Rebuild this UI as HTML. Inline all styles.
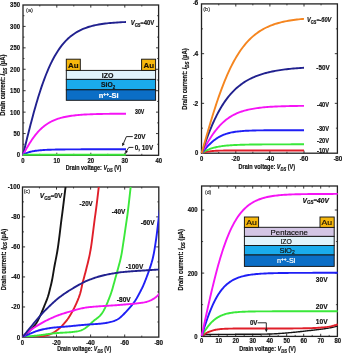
<!DOCTYPE html>
<html><head><meta charset="utf-8"><title>Output characteristics</title>
<style>html,body{margin:0;padding:0;background:#fff;width:342px;height:355px;overflow:hidden}svg{display:block}</style>
</head><body>
<svg width="342" height="355" viewBox="0 0 342 355" style="font-family:'Liberation Sans',Arial,sans-serif;font-weight:bold">
<style>text{stroke:#111;stroke-width:0.18px;stroke-linejoin:round}text.w{stroke:#fff}text.n{stroke-width:0.12px;fill:#222;stroke:#222}</style>
<rect width="342" height="355" fill="#fff"/>
<line x1="56.80" y1="155.30" x2="56.80" y2="152.70" stroke="#222" stroke-width="0.90"/>
<line x1="56.80" y1="5.00" x2="56.80" y2="7.60" stroke="#222" stroke-width="0.90"/>
<line x1="90.80" y1="155.30" x2="90.80" y2="152.70" stroke="#222" stroke-width="0.90"/>
<line x1="90.80" y1="5.00" x2="90.80" y2="7.60" stroke="#222" stroke-width="0.90"/>
<line x1="124.80" y1="155.30" x2="124.80" y2="152.70" stroke="#222" stroke-width="0.90"/>
<line x1="124.80" y1="5.00" x2="124.80" y2="7.60" stroke="#222" stroke-width="0.90"/>
<line x1="39.80" y1="155.30" x2="39.80" y2="153.80" stroke="#222" stroke-width="0.80"/>
<line x1="39.80" y1="5.00" x2="39.80" y2="6.50" stroke="#222" stroke-width="0.80"/>
<line x1="73.80" y1="155.30" x2="73.80" y2="153.80" stroke="#222" stroke-width="0.80"/>
<line x1="73.80" y1="5.00" x2="73.80" y2="6.50" stroke="#222" stroke-width="0.80"/>
<line x1="107.80" y1="155.30" x2="107.80" y2="153.80" stroke="#222" stroke-width="0.80"/>
<line x1="107.80" y1="5.00" x2="107.80" y2="6.50" stroke="#222" stroke-width="0.80"/>
<line x1="141.80" y1="155.30" x2="141.80" y2="153.80" stroke="#222" stroke-width="0.80"/>
<line x1="141.80" y1="5.00" x2="141.80" y2="6.50" stroke="#222" stroke-width="0.80"/>
<line x1="23.00" y1="133.57" x2="25.60" y2="133.57" stroke="#222" stroke-width="0.90"/>
<line x1="158.60" y1="133.57" x2="156.00" y2="133.57" stroke="#222" stroke-width="0.90"/>
<line x1="23.00" y1="112.14" x2="25.60" y2="112.14" stroke="#222" stroke-width="0.90"/>
<line x1="158.60" y1="112.14" x2="156.00" y2="112.14" stroke="#222" stroke-width="0.90"/>
<line x1="23.00" y1="90.71" x2="25.60" y2="90.71" stroke="#222" stroke-width="0.90"/>
<line x1="158.60" y1="90.71" x2="156.00" y2="90.71" stroke="#222" stroke-width="0.90"/>
<line x1="23.00" y1="69.28" x2="25.60" y2="69.28" stroke="#222" stroke-width="0.90"/>
<line x1="158.60" y1="69.28" x2="156.00" y2="69.28" stroke="#222" stroke-width="0.90"/>
<line x1="23.00" y1="47.85" x2="25.60" y2="47.85" stroke="#222" stroke-width="0.90"/>
<line x1="158.60" y1="47.85" x2="156.00" y2="47.85" stroke="#222" stroke-width="0.90"/>
<line x1="23.00" y1="26.42" x2="25.60" y2="26.42" stroke="#222" stroke-width="0.90"/>
<line x1="158.60" y1="26.42" x2="156.00" y2="26.42" stroke="#222" stroke-width="0.90"/>
<line x1="23.00" y1="144.28" x2="24.50" y2="144.28" stroke="#222" stroke-width="0.80"/>
<line x1="158.60" y1="144.28" x2="157.10" y2="144.28" stroke="#222" stroke-width="0.80"/>
<line x1="23.00" y1="122.86" x2="24.50" y2="122.86" stroke="#222" stroke-width="0.80"/>
<line x1="158.60" y1="122.86" x2="157.10" y2="122.86" stroke="#222" stroke-width="0.80"/>
<line x1="23.00" y1="101.43" x2="24.50" y2="101.43" stroke="#222" stroke-width="0.80"/>
<line x1="158.60" y1="101.43" x2="157.10" y2="101.43" stroke="#222" stroke-width="0.80"/>
<line x1="23.00" y1="80.00" x2="24.50" y2="80.00" stroke="#222" stroke-width="0.80"/>
<line x1="158.60" y1="80.00" x2="157.10" y2="80.00" stroke="#222" stroke-width="0.80"/>
<line x1="23.00" y1="58.56" x2="24.50" y2="58.56" stroke="#222" stroke-width="0.80"/>
<line x1="158.60" y1="58.56" x2="157.10" y2="58.56" stroke="#222" stroke-width="0.80"/>
<line x1="23.00" y1="37.14" x2="24.50" y2="37.14" stroke="#222" stroke-width="0.80"/>
<line x1="158.60" y1="37.14" x2="157.10" y2="37.14" stroke="#222" stroke-width="0.80"/>
<line x1="23.00" y1="15.71" x2="24.50" y2="15.71" stroke="#222" stroke-width="0.80"/>
<line x1="158.60" y1="15.71" x2="157.10" y2="15.71" stroke="#222" stroke-width="0.80"/>
<rect x="23.00" y="5.00" width="135.60" height="150.30" fill="none" stroke="#222" stroke-width="1.30"/>
<path d="M23.00 155.00 L23.13 154.47 L23.37 153.50 L23.67 152.25 L24.03 150.76 L24.44 149.08 L24.90 147.22 L25.39 145.20 L25.92 143.05 L26.49 140.76 L27.08 138.35 L27.71 135.83 L28.37 133.21 L29.05 130.50 L29.77 127.71 L30.50 124.84 L31.27 121.92 L32.05 118.94 L32.86 115.92 L33.70 112.86 L34.55 109.77 L35.43 106.67 L36.33 103.56 L37.25 100.45 L38.19 97.34 L39.15 94.26 L40.13 91.19 L41.12 88.17 L42.14 85.18 L43.17 82.24 L44.23 79.35 L45.30 76.52 L46.38 73.75 L47.49 71.06 L48.61 68.44 L49.75 65.90 L50.90 63.44 L52.07 61.06 L53.26 58.77 L54.46 56.56 L55.68 54.44 L56.91 52.42 L58.16 50.48 L59.42 48.63 L60.70 46.86 L61.99 45.19 L63.30 43.60 L64.62 42.09 L65.96 40.66 L67.31 39.31 L68.67 38.04 L70.05 36.85 L71.44 35.72 L72.84 34.67 L74.26 33.68 L75.69 32.75 L77.13 31.88 L78.59 31.07 L80.06 30.32 L81.54 29.61 L83.03 28.96 L84.54 28.35 L86.06 27.78 L87.59 27.26 L89.14 26.77 L90.69 26.32 L92.26 25.91 L93.84 25.52 L95.43 25.17 L97.04 24.84 L98.65 24.54 L100.28 24.26 L101.92 24.00 L103.57 23.77 L105.23 23.55 L106.90 23.35 L108.58 23.17 L110.28 23.00 L111.98 22.85 L113.70 22.71 L115.43 22.58 L117.17 22.46 L118.92 22.36 L120.68 22.26 L122.45 22.17 L124.23 22.09 L126.02 22.02" fill="none" stroke="#21218f" stroke-width="1.90" stroke-linejoin="round"/>
<path d="M23.00 155.00 L23.13 154.76 L23.37 154.32 L23.67 153.75 L24.03 153.08 L24.44 152.33 L24.90 151.50 L25.39 150.60 L25.92 149.64 L26.49 148.64 L27.08 147.59 L27.71 146.50 L28.37 145.39 L29.05 144.25 L29.77 143.09 L30.50 141.92 L31.27 140.75 L32.05 139.57 L32.86 138.40 L33.70 137.23 L34.55 136.08 L35.43 134.95 L36.33 133.84 L37.25 132.75 L38.19 131.69 L39.15 130.66 L40.13 129.66 L41.12 128.70 L42.14 127.77 L43.17 126.89 L44.23 126.03 L45.30 125.22 L46.38 124.45 L47.49 123.71 L48.61 123.01 L49.75 122.35 L50.90 121.73 L52.07 121.14 L53.26 120.59 L54.46 120.07 L55.68 119.58 L56.91 119.13 L58.16 118.70 L59.42 118.31 L60.70 117.94 L61.99 117.59 L63.30 117.27 L64.62 116.98 L65.96 116.70 L67.31 116.45 L68.67 116.21 L70.05 115.99 L71.44 115.79 L72.84 115.61 L74.26 115.44 L75.69 115.28 L77.13 115.13 L78.59 115.00 L80.06 114.88 L81.54 114.77 L83.03 114.67 L84.54 114.57 L86.06 114.48 L87.59 114.41 L89.14 114.33 L90.69 114.27 L92.26 114.21 L93.84 114.15 L95.43 114.10 L97.04 114.06 L98.65 114.01 L100.28 113.98 L101.92 113.94 L103.57 113.91 L105.23 113.88 L106.90 113.85 L108.58 113.83 L110.28 113.81 L111.98 113.79 L113.70 113.77 L115.43 113.76 L117.17 113.74 L118.92 113.73 L120.68 113.71 L122.45 113.70 L124.23 113.69 L126.02 113.68" fill="none" stroke="#f514f5" stroke-width="1.90" stroke-linejoin="round"/>
<path d="M23.00 155.00 L23.13 154.92 L23.37 154.76 L23.67 154.58 L24.03 154.36 L24.44 154.12 L24.90 153.88 L25.39 153.63 L25.92 153.37 L26.49 153.12 L27.08 152.88 L27.71 152.64 L28.37 152.41 L29.05 152.19 L29.77 151.97 L30.50 151.77 L31.27 151.59 L32.05 151.41 L32.86 151.24 L33.70 151.09 L34.55 150.94 L35.43 150.81 L36.33 150.69 L37.25 150.57 L38.19 150.47 L39.15 150.37 L40.13 150.28 L41.12 150.19 L42.14 150.12 L43.17 150.05 L44.23 149.98 L45.30 149.92 L46.38 149.87 L47.49 149.82 L48.61 149.77 L49.75 149.73 L50.90 149.69 L52.07 149.66 L53.26 149.62 L54.46 149.59 L55.68 149.57 L56.91 149.54 L58.16 149.52 L59.42 149.50 L60.70 149.48 L61.99 149.46 L63.30 149.44 L64.62 149.43 L65.96 149.42 L67.31 149.40 L68.67 149.39 L70.05 149.38 L71.44 149.37 L72.84 149.36 L74.26 149.35 L75.69 149.35 L77.13 149.34 L78.59 149.33 L80.06 149.33 L81.54 149.32 L83.03 149.32 L84.54 149.31 L86.06 149.31 L87.59 149.30 L89.14 149.30 L90.69 149.30 L92.26 149.30 L93.84 149.29 L95.43 149.29 L97.04 149.29 L98.65 149.29 L100.28 149.28 L101.92 149.28 L103.57 149.28 L105.23 149.28 L106.90 149.28 L108.58 149.28 L110.28 149.27 L111.98 149.27 L113.70 149.27 L115.43 149.27 L117.17 149.27 L118.92 149.27 L120.68 149.27 L122.45 149.27 L124.23 149.27 L126.02 149.27" fill="none" stroke="#1f1ff5" stroke-width="1.90" stroke-linejoin="round"/>
<path d="M23.00 154.80 L23.50 154.80 L24.00 154.80 L24.50 154.80 L25.01 154.80 L25.51 154.80 L26.01 154.80 L26.51 154.80 L27.01 154.80 L27.51 154.80 L28.01 154.80 L28.52 154.79 L29.02 154.79 L29.52 154.79 L30.02 154.79 L30.52 154.79 L31.02 154.79 L31.52 154.79 L32.03 154.79 L32.53 154.79 L33.03 154.79 L33.53 154.79 L34.03 154.79 L34.53 154.79 L35.04 154.79 L35.54 154.79 L36.04 154.79 L36.54 154.79 L37.04 154.79 L37.54 154.79 L38.04 154.79 L38.55 154.78 L39.05 154.78 L39.55 154.78 L40.05 154.78 L40.55 154.78 L41.05 154.78 L41.55 154.78 L42.06 154.78 L42.56 154.78 L43.06 154.78 L43.56 154.78 L44.06 154.78 L44.56 154.78 L45.06 154.78 L45.57 154.78 L46.07 154.78 L46.57 154.78 L47.07 154.78 L47.57 154.78 L48.07 154.78 L48.57 154.78 L49.08 154.77 L49.58 154.77 L50.08 154.77 L50.58 154.77 L51.08 154.77 L51.58 154.77 L52.08 154.77 L52.59 154.77 L53.09 154.77 L53.59 154.77 L54.09 154.77 L54.59 154.77 L55.09 154.77 L55.60 154.77 L56.10 154.77 L56.60 154.77 L57.10 154.77 L57.60 154.77 L58.10 154.77 L58.60 154.77 L59.11 154.76 L59.61 154.76 L60.11 154.76 L60.61 154.76 L61.11 154.76 L61.61 154.76 L62.11 154.76 L62.62 154.76 L63.12 154.76 L63.62 154.76 L64.12 154.76 L64.62 154.76 L65.12 154.76 L65.62 154.76 L66.13 154.76 L66.63 154.76 L67.13 154.76 L67.63 154.76 L68.13 154.76 L68.63 154.76 L69.13 154.76 L69.64 154.75 L70.14 154.75 L70.64 154.75 L71.14 154.75 L71.64 154.75 L72.14 154.75 L72.64 154.75 L73.15 154.75 L73.65 154.75 L74.15 154.75 L74.65 154.75 L75.15 154.75 L75.65 154.75 L76.16 154.75 L76.66 154.75 L77.16 154.75 L77.66 154.75 L78.16 154.75 L78.66 154.75 L79.16 154.75 L79.67 154.74 L80.17 154.74 L80.67 154.74 L81.17 154.74 L81.67 154.74 L82.17 154.74 L82.67 154.74 L83.18 154.74 L83.68 154.74 L84.18 154.74 L84.68 154.74 L85.18 154.74 L85.68 154.74 L86.18 154.74 L86.69 154.74 L87.19 154.74 L87.69 154.74 L88.19 154.74 L88.69 154.74 L89.19 154.74 L89.69 154.74 L90.20 154.73 L90.70 154.73 L91.20 154.73 L91.70 154.73 L92.20 154.73 L92.70 154.73 L93.20 154.73 L93.71 154.73 L94.21 154.73 L94.71 154.73 L95.21 154.73 L95.71 154.73 L96.21 154.73 L96.72 154.73 L97.22 154.73 L97.72 154.73 L98.22 154.73 L98.72 154.73 L99.22 154.73 L99.72 154.73 L100.23 154.72 L100.73 154.72 L101.23 154.72 L101.73 154.72 L102.23 154.72 L102.73 154.72 L103.23 154.72 L103.74 154.72 L104.24 154.72 L104.74 154.72 L105.24 154.72 L105.74 154.72 L106.24 154.72 L106.74 154.72 L107.25 154.72 L107.75 154.72 L108.25 154.72 L108.75 154.72 L109.25 154.72 L109.75 154.72 L110.25 154.72 L110.76 154.71 L111.26 154.71 L111.76 154.71 L112.26 154.71 L112.76 154.71 L113.26 154.71 L113.76 154.71 L114.27 154.71 L114.77 154.71 L115.27 154.71 L115.77 154.71 L116.27 154.71 L116.77 154.71 L117.28 154.71 L117.78 154.71 L118.28 154.71 L118.78 154.71 L119.28 154.71 L119.78 154.71 L120.28 154.71 L120.79 154.70 L121.29 154.70 L121.79 154.70 L122.29 154.70 L122.79 154.70 L123.29 154.70 L123.79 154.70 L124.30 154.70 L124.80 154.70 L125.30 154.70 L125.80 154.70" fill="none" stroke="#3ae83a" stroke-width="1.90" stroke-linejoin="round" stroke-linecap="butt"/>
<text x="20.00" y="157.40" font-size="7.00" text-anchor="end" fill="#111" font-family="Liberation Sans, sans-serif" textLength="3.30" lengthAdjust="spacingAndGlyphs">0</text>
<text x="20.00" y="135.97" font-size="7.00" text-anchor="end" fill="#111" font-family="Liberation Sans, sans-serif" textLength="6.60" lengthAdjust="spacingAndGlyphs">50</text>
<text x="20.00" y="114.54" font-size="7.00" text-anchor="end" fill="#111" font-family="Liberation Sans, sans-serif" textLength="9.90" lengthAdjust="spacingAndGlyphs">100</text>
<text x="20.00" y="93.11" font-size="7.00" text-anchor="end" fill="#111" font-family="Liberation Sans, sans-serif" textLength="9.90" lengthAdjust="spacingAndGlyphs">150</text>
<text x="20.00" y="71.68" font-size="7.00" text-anchor="end" fill="#111" font-family="Liberation Sans, sans-serif" textLength="9.90" lengthAdjust="spacingAndGlyphs">200</text>
<text x="20.00" y="50.25" font-size="7.00" text-anchor="end" fill="#111" font-family="Liberation Sans, sans-serif" textLength="9.90" lengthAdjust="spacingAndGlyphs">250</text>
<text x="20.00" y="28.82" font-size="7.00" text-anchor="end" fill="#111" font-family="Liberation Sans, sans-serif" textLength="9.90" lengthAdjust="spacingAndGlyphs">300</text>
<text x="20.00" y="7.39" font-size="7.00" text-anchor="end" fill="#111" font-family="Liberation Sans, sans-serif" textLength="9.90" lengthAdjust="spacingAndGlyphs">350</text>
<text x="22.80" y="163.00" font-size="7.00" text-anchor="middle" fill="#111" font-family="Liberation Sans, sans-serif" textLength="3.30" lengthAdjust="spacingAndGlyphs">0</text>
<text x="56.80" y="163.00" font-size="7.00" text-anchor="middle" fill="#111" font-family="Liberation Sans, sans-serif" textLength="6.60" lengthAdjust="spacingAndGlyphs">10</text>
<text x="90.80" y="163.00" font-size="7.00" text-anchor="middle" fill="#111" font-family="Liberation Sans, sans-serif" textLength="6.60" lengthAdjust="spacingAndGlyphs">20</text>
<text x="124.80" y="163.00" font-size="7.00" text-anchor="middle" fill="#111" font-family="Liberation Sans, sans-serif" textLength="6.60" lengthAdjust="spacingAndGlyphs">30</text>
<text x="158.80" y="163.00" font-size="7.00" text-anchor="middle" fill="#111" font-family="Liberation Sans, sans-serif" textLength="6.60" lengthAdjust="spacingAndGlyphs">40</text>
<text x="26.00" y="12.20" font-size="6.00" text-anchor="start" fill="#111" textLength="7.00" lengthAdjust="spacingAndGlyphs" font-weight="normal" class="n">(a)</text>
<text transform="translate(5.40 115.80) rotate(-90)" font-size="6.30" fill="#111" textLength="61.20" lengthAdjust="spacingAndGlyphs">Drain current: <tspan font-style="italic">I</tspan><tspan font-style="italic" font-size="4.72" dy="1.8">DS</tspan><tspan dy="-1.8"> (µA)</tspan></text>
<text x="65.70" y="169.80" font-size="6.30" fill="#111" textLength="55.70" lengthAdjust="spacingAndGlyphs">Drain voltage: <tspan font-style="italic">V</tspan><tspan font-style="italic" font-size="4.72" dy="1.9">DS</tspan><tspan dy="-1.9"> (V)</tspan></text>
<text x="130.70" y="25.00" font-size="7.00" fill="#111" textLength="23.60" lengthAdjust="spacingAndGlyphs"><tspan font-style="italic">V</tspan><tspan font-style="italic" font-size="4.76" dy="1.9">GS</tspan><tspan dy="-2.1" font-size="6.16">=</tspan><tspan dy="0.2">40V</tspan></text>
<text x="135.00" y="114.00" font-size="7.00" text-anchor="start" fill="#111" textLength="9.30" lengthAdjust="spacingAndGlyphs">30V</text>
<text x="134.10" y="138.80" font-size="7.00" text-anchor="start" fill="#111" textLength="11.40" lengthAdjust="spacingAndGlyphs">20V</text>
<text x="134.70" y="149.60" font-size="7.00" text-anchor="start" fill="#111" textLength="18.50" lengthAdjust="spacingAndGlyphs">0, 10V</text>
<polyline points="132.8,136.6 126.4,136.6 123.4,143.6" fill="none" stroke="#111" stroke-width="0.9"/>
<path d="M122.20 146.20 L122.15 142.67 L124.88 143.90 Z" fill="#111"/>
<polyline points="133.4,147.4 128.8,147.4 126.4,151.3" fill="none" stroke="#111" stroke-width="0.9"/>
<path d="M125.40 153.90 L125.20 150.37 L127.98 151.49 Z" fill="#111"/>
<rect x="66.30" y="70.40" width="89.30" height="9.00" fill="#e0f3fb" stroke="#151515" stroke-width="0.95"/>
<rect x="66.30" y="79.40" width="89.30" height="10.40" fill="#1aabec" stroke="#151515" stroke-width="0.95"/>
<rect x="66.30" y="89.80" width="89.30" height="10.50" fill="#0b6ec6" stroke="#151515" stroke-width="0.95"/>
<rect x="66.30" y="59.20" width="14.00" height="11.20" fill="#f6b70d" stroke="#151515" stroke-width="0.95"/>
<text x="68.00" y="67.60" font-size="7.4" font-weight="bold" fill="#221500" textLength="10.60" lengthAdjust="spacingAndGlyphs">Au</text>
<rect x="141.60" y="59.20" width="14.00" height="11.20" fill="#f6b70d" stroke="#151515" stroke-width="0.95"/>
<text x="143.60" y="67.60" font-size="7.4" font-weight="bold" fill="#221500" textLength="10.60" lengthAdjust="spacingAndGlyphs">Au</text>
<text x="101.70" y="77.50" font-size="7.3" font-weight="bold" fill="#111" textLength="11.70" lengthAdjust="spacingAndGlyphs">IZO</text>
<text x="101.10" y="87.40" font-size="7.3" font-weight="bold" fill="#111" textLength="14.00" lengthAdjust="spacingAndGlyphs">SiO<tspan font-size="4.8" dy="1.5">2</tspan></text>
<text x="98.80" y="98.30" font-size="7.3" font-weight="bold" fill="#fff" class="w" textLength="19.90" lengthAdjust="spacingAndGlyphs">n<tspan font-size="4.8" dy="-2.4">++</tspan><tspan dy="2.4">-Si</tspan></text>
<line x1="235.80" y1="153.20" x2="235.80" y2="150.60" stroke="#222" stroke-width="0.90"/>
<line x1="235.80" y1="3.90" x2="235.80" y2="6.50" stroke="#222" stroke-width="0.90"/>
<line x1="269.90" y1="153.20" x2="269.90" y2="150.60" stroke="#222" stroke-width="0.90"/>
<line x1="269.90" y1="3.90" x2="269.90" y2="6.50" stroke="#222" stroke-width="0.90"/>
<line x1="304.00" y1="153.20" x2="304.00" y2="150.60" stroke="#222" stroke-width="0.90"/>
<line x1="304.00" y1="3.90" x2="304.00" y2="6.50" stroke="#222" stroke-width="0.90"/>
<line x1="218.75" y1="153.20" x2="218.75" y2="151.70" stroke="#222" stroke-width="0.80"/>
<line x1="218.75" y1="3.90" x2="218.75" y2="5.40" stroke="#222" stroke-width="0.80"/>
<line x1="252.85" y1="153.20" x2="252.85" y2="151.70" stroke="#222" stroke-width="0.80"/>
<line x1="252.85" y1="3.90" x2="252.85" y2="5.40" stroke="#222" stroke-width="0.80"/>
<line x1="286.95" y1="153.20" x2="286.95" y2="151.70" stroke="#222" stroke-width="0.80"/>
<line x1="286.95" y1="3.90" x2="286.95" y2="5.40" stroke="#222" stroke-width="0.80"/>
<line x1="321.05" y1="153.20" x2="321.05" y2="151.70" stroke="#222" stroke-width="0.80"/>
<line x1="321.05" y1="3.90" x2="321.05" y2="5.40" stroke="#222" stroke-width="0.80"/>
<line x1="201.50" y1="103.34" x2="204.10" y2="103.34" stroke="#222" stroke-width="0.90"/>
<line x1="337.40" y1="103.34" x2="334.80" y2="103.34" stroke="#222" stroke-width="0.90"/>
<line x1="201.50" y1="53.68" x2="204.10" y2="53.68" stroke="#222" stroke-width="0.90"/>
<line x1="337.40" y1="53.68" x2="334.80" y2="53.68" stroke="#222" stroke-width="0.90"/>
<line x1="201.50" y1="128.17" x2="203.00" y2="128.17" stroke="#222" stroke-width="0.80"/>
<line x1="337.40" y1="128.17" x2="335.90" y2="128.17" stroke="#222" stroke-width="0.80"/>
<line x1="201.50" y1="78.51" x2="203.00" y2="78.51" stroke="#222" stroke-width="0.80"/>
<line x1="337.40" y1="78.51" x2="335.90" y2="78.51" stroke="#222" stroke-width="0.80"/>
<line x1="201.50" y1="28.85" x2="203.00" y2="28.85" stroke="#222" stroke-width="0.80"/>
<line x1="337.40" y1="28.85" x2="335.90" y2="28.85" stroke="#222" stroke-width="0.80"/>
<rect x="201.50" y="3.90" width="135.90" height="149.30" fill="none" stroke="#222" stroke-width="1.30"/>
<path d="M201.70 153.00 L201.83 152.97 L202.06 152.91 L202.37 152.84 L202.73 152.75 L203.13 152.65 L203.59 152.54 L204.08 152.43 L204.60 152.31 L205.16 152.18 L205.76 152.06 L206.38 151.93 L207.03 151.80 L207.71 151.68 L208.42 151.56 L209.15 151.44 L209.91 151.34 L210.69 151.24 L211.50 151.14 L212.32 151.06 L213.17 150.98 L214.04 150.91 L214.94 150.85 L215.85 150.80 L216.78 150.75 L217.73 150.71 L218.71 150.67 L219.70 150.64 L220.70 150.62 L221.73 150.60 L222.78 150.58 L223.84 150.57 L224.92 150.55 L226.02 150.54 L227.13 150.53 L228.26 150.53 L229.41 150.52 L230.57 150.52 L231.75 150.51 L232.94 150.51 L234.15 150.51 L235.37 150.51 L236.61 150.51 L237.87 150.50 L239.14 150.50 L240.42 150.50 L241.72 150.50 L243.03 150.50 L244.36 150.50 L245.70 150.50 L247.05 150.50 L248.42 150.50 L249.80 150.50 L251.19 150.50 L252.60 150.50 L254.02 150.50 L255.45 150.50 L256.90 150.50 L258.36 150.50 L259.83 150.50 L261.31 150.50 L262.81 150.50 L264.32 150.50 L265.84 150.50 L267.37 150.50 L268.92 150.50 L270.48 150.50 L272.05 150.50 L273.63 150.50 L275.22 150.50 L276.82 150.50 L278.44 150.50 L280.07 150.50 L281.70 150.50 L283.35 150.50 L285.01 150.50 L286.69 150.50 L288.37 150.50 L290.06 150.50 L291.77 150.50 L293.48 150.50 L295.21 150.50 L296.95 150.50 L298.69 150.50 L300.45 150.50 L302.22 150.50 L304.00 150.50" fill="none" stroke="#e01f2a" stroke-width="1.90" stroke-linejoin="round"/>
<path d="M201.70 153.00 L201.83 152.92 L202.06 152.78 L202.37 152.60 L202.73 152.39 L203.13 152.15 L203.59 151.90 L204.08 151.63 L204.60 151.34 L205.16 151.05 L205.76 150.75 L206.38 150.45 L207.03 150.15 L207.71 149.85 L208.42 149.55 L209.15 149.26 L209.91 148.97 L210.69 148.70 L211.50 148.43 L212.32 148.17 L213.17 147.92 L214.04 147.68 L214.94 147.45 L215.85 147.24 L216.78 147.03 L217.73 146.84 L218.71 146.66 L219.70 146.48 L220.70 146.32 L221.73 146.17 L222.78 146.03 L223.84 145.90 L224.92 145.78 L226.02 145.66 L227.13 145.56 L228.26 145.46 L229.41 145.37 L230.57 145.28 L231.75 145.20 L232.94 145.13 L234.15 145.06 L235.37 145.00 L236.61 144.94 L237.87 144.89 L239.14 144.84 L240.42 144.80 L241.72 144.76 L243.03 144.72 L244.36 144.68 L245.70 144.65 L247.05 144.62 L248.42 144.60 L249.80 144.57 L251.19 144.55 L252.60 144.53 L254.02 144.51 L255.45 144.49 L256.90 144.47 L258.36 144.46 L259.83 144.45 L261.31 144.43 L262.81 144.42 L264.32 144.41 L265.84 144.40 L267.37 144.39 L268.92 144.39 L270.48 144.38 L272.05 144.37 L273.63 144.37 L275.22 144.36 L276.82 144.36 L278.44 144.35 L280.07 144.35 L281.70 144.34 L283.35 144.34 L285.01 144.34 L286.69 144.33 L288.37 144.33 L290.06 144.33 L291.77 144.32 L293.48 144.32 L295.21 144.32 L296.95 144.32 L298.69 144.32 L300.45 144.32 L302.22 144.31 L304.00 144.31" fill="none" stroke="#3ae83a" stroke-width="1.90" stroke-linejoin="round"/>
<path d="M201.70 153.00 L201.83 152.85 L202.06 152.57 L202.37 152.22 L202.73 151.79 L203.13 151.32 L203.59 150.79 L204.08 150.22 L204.60 149.62 L205.16 148.98 L205.76 148.32 L206.38 147.63 L207.03 146.92 L207.71 146.19 L208.42 145.46 L209.15 144.71 L209.91 143.97 L210.69 143.22 L211.50 142.49 L212.32 141.76 L213.17 141.04 L214.04 140.34 L214.94 139.66 L215.85 139.00 L216.78 138.37 L217.73 137.76 L218.71 137.18 L219.70 136.63 L220.70 136.10 L221.73 135.61 L222.78 135.14 L223.84 134.71 L224.92 134.30 L226.02 133.92 L227.13 133.58 L228.26 133.25 L229.41 132.95 L230.57 132.68 L231.75 132.43 L232.94 132.20 L234.15 131.99 L235.37 131.81 L236.61 131.63 L237.87 131.48 L239.14 131.34 L240.42 131.21 L241.72 131.10 L243.03 131.00 L244.36 130.91 L245.70 130.82 L247.05 130.75 L248.42 130.69 L249.80 130.63 L251.19 130.58 L252.60 130.53 L254.02 130.49 L255.45 130.46 L256.90 130.42 L258.36 130.40 L259.83 130.37 L261.31 130.35 L262.81 130.33 L264.32 130.31 L265.84 130.30 L267.37 130.29 L268.92 130.27 L270.48 130.26 L272.05 130.26 L273.63 130.25 L275.22 130.24 L276.82 130.24 L278.44 130.23 L280.07 130.23 L281.70 130.22 L283.35 130.22 L285.01 130.22 L286.69 130.22 L288.37 130.21 L290.06 130.21 L291.77 130.21 L293.48 130.21 L295.21 130.21 L296.95 130.21 L298.69 130.21 L300.45 130.20 L302.22 130.20 L304.00 130.20" fill="none" stroke="#1f1ff5" stroke-width="1.90" stroke-linejoin="round"/>
<path d="M201.70 153.00 L201.83 152.76 L202.06 152.33 L202.37 151.77 L202.73 151.11 L203.13 150.37 L203.59 149.54 L204.08 148.65 L204.60 147.71 L205.16 146.71 L205.76 145.66 L206.38 144.57 L207.03 143.45 L207.71 142.29 L208.42 141.12 L209.15 139.92 L209.91 138.71 L210.69 137.49 L211.50 136.27 L212.32 135.04 L213.17 133.82 L214.04 132.61 L214.94 131.41 L215.85 130.22 L216.78 129.06 L217.73 127.92 L218.71 126.80 L219.70 125.71 L220.70 124.65 L221.73 123.62 L222.78 122.63 L223.84 121.67 L224.92 120.74 L226.02 119.85 L227.13 119.00 L228.26 118.18 L229.41 117.40 L230.57 116.66 L231.75 115.95 L232.94 115.28 L234.15 114.64 L235.37 114.04 L236.61 113.47 L237.87 112.93 L239.14 112.42 L240.42 111.95 L241.72 111.50 L243.03 111.08 L244.36 110.69 L245.70 110.32 L247.05 109.97 L248.42 109.65 L249.80 109.35 L251.19 109.07 L252.60 108.81 L254.02 108.57 L255.45 108.34 L256.90 108.13 L258.36 107.94 L259.83 107.76 L261.31 107.59 L262.81 107.43 L264.32 107.29 L265.84 107.16 L267.37 107.04 L268.92 106.92 L270.48 106.82 L272.05 106.72 L273.63 106.63 L275.22 106.55 L276.82 106.48 L278.44 106.41 L280.07 106.34 L281.70 106.29 L283.35 106.23 L285.01 106.18 L286.69 106.14 L288.37 106.10 L290.06 106.06 L291.77 106.02 L293.48 105.99 L295.21 105.96 L296.95 105.93 L298.69 105.91 L300.45 105.89 L302.22 105.86 L304.00 105.85" fill="none" stroke="#f514f5" stroke-width="1.90" stroke-linejoin="round"/>
<path d="M201.70 153.00 L201.83 152.62 L202.06 151.93 L202.37 151.04 L202.73 149.98 L203.13 148.79 L203.59 147.48 L204.08 146.07 L204.60 144.57 L205.16 142.99 L205.76 141.34 L206.38 139.63 L207.03 137.86 L207.71 136.05 L208.42 134.21 L209.15 132.33 L209.91 130.43 L210.69 128.52 L211.50 126.60 L212.32 124.67 L213.17 122.75 L214.04 120.83 L214.94 118.93 L215.85 117.04 L216.78 115.18 L217.73 113.34 L218.71 111.52 L219.70 109.74 L220.70 108.00 L221.73 106.29 L222.78 104.62 L223.84 102.99 L224.92 101.40 L226.02 99.85 L227.13 98.36 L228.26 96.90 L229.41 95.49 L230.57 94.13 L231.75 92.82 L232.94 91.55 L234.15 90.33 L235.37 89.15 L236.61 88.02 L237.87 86.94 L239.14 85.89 L240.42 84.89 L241.72 83.94 L243.03 83.02 L244.36 82.14 L245.70 81.31 L247.05 80.51 L248.42 79.74 L249.80 79.01 L251.19 78.32 L252.60 77.66 L254.02 77.03 L255.45 76.43 L256.90 75.86 L258.36 75.32 L259.83 74.81 L261.31 74.32 L262.81 73.86 L264.32 73.42 L265.84 73.00 L267.37 72.61 L268.92 72.23 L270.48 71.88 L272.05 71.54 L273.63 71.22 L275.22 70.92 L276.82 70.64 L278.44 70.37 L280.07 70.11 L281.70 69.87 L283.35 69.65 L285.01 69.43 L286.69 69.23 L288.37 69.04 L290.06 68.86 L291.77 68.68 L293.48 68.52 L295.21 68.37 L296.95 68.23 L298.69 68.09 L300.45 67.96 L302.22 67.84 L304.00 67.73" fill="none" stroke="#21218f" stroke-width="1.90" stroke-linejoin="round"/>
<path d="M201.70 153.00 L201.83 152.55 L202.06 151.71 L202.37 150.64 L202.73 149.36 L203.13 147.92 L203.59 146.32 L204.08 144.59 L204.60 142.74 L205.16 140.77 L205.76 138.69 L206.38 136.52 L207.03 134.26 L207.71 131.91 L208.42 129.49 L209.15 127.00 L209.91 124.44 L210.69 121.83 L211.50 119.18 L212.32 116.48 L213.17 113.74 L214.04 110.97 L214.94 108.18 L215.85 105.38 L216.78 102.56 L217.73 99.74 L218.71 96.92 L219.70 94.12 L220.70 91.32 L221.73 88.55 L222.78 85.80 L223.84 83.09 L224.92 80.41 L226.02 77.77 L227.13 75.17 L228.26 72.63 L229.41 70.14 L230.57 67.70 L231.75 65.33 L232.94 63.02 L234.15 60.77 L235.37 58.59 L236.61 56.48 L237.87 54.43 L239.14 52.46 L240.42 50.56 L241.72 48.73 L243.03 46.97 L244.36 45.29 L245.70 43.67 L247.05 42.13 L248.42 40.65 L249.80 39.24 L251.19 37.90 L252.60 36.62 L254.02 35.40 L255.45 34.25 L256.90 33.16 L258.36 32.12 L259.83 31.14 L261.31 30.21 L262.81 29.34 L264.32 28.52 L265.84 27.74 L267.37 27.01 L268.92 26.32 L270.48 25.68 L272.05 25.07 L273.63 24.50 L275.22 23.97 L276.82 23.47 L278.44 23.01 L280.07 22.57 L281.70 22.16 L283.35 21.78 L285.01 21.43 L286.69 21.10 L288.37 20.79 L290.06 20.50 L291.77 20.24 L293.48 19.99 L295.21 19.76 L296.95 19.55 L298.69 19.35 L300.45 19.17 L302.22 19.00 L304.00 18.84" fill="none" stroke="#f5851f" stroke-width="1.90" stroke-linejoin="round"/>
<text x="198.20" y="155.20" font-size="7.00" text-anchor="end" fill="#111" font-family="Liberation Sans, sans-serif" textLength="3.30" lengthAdjust="spacingAndGlyphs">0</text>
<text x="198.20" y="105.54" font-size="7.00" text-anchor="end" fill="#111" font-family="Liberation Sans, sans-serif" textLength="5.30" lengthAdjust="spacingAndGlyphs"><tspan font-size="5" dy="0.7">-</tspan><tspan dy="-0.7">2</tspan></text>
<text x="198.20" y="55.88" font-size="7.00" text-anchor="end" fill="#111" font-family="Liberation Sans, sans-serif" textLength="5.30" lengthAdjust="spacingAndGlyphs"><tspan font-size="5" dy="0.7">-</tspan><tspan dy="-0.7">4</tspan></text>
<text x="198.20" y="4.60" font-size="7.00" text-anchor="end" fill="#111" font-family="Liberation Sans, sans-serif" textLength="5.30" lengthAdjust="spacingAndGlyphs"><tspan font-size="5" dy="0.7">-</tspan><tspan dy="-0.7">6</tspan></text>
<text x="201.70" y="160.60" font-size="7.00" text-anchor="middle" fill="#111" font-family="Liberation Sans, sans-serif" textLength="3.30" lengthAdjust="spacingAndGlyphs">0</text>
<text x="235.80" y="160.60" font-size="7.00" text-anchor="middle" fill="#111" font-family="Liberation Sans, sans-serif" textLength="8.60" lengthAdjust="spacingAndGlyphs"><tspan font-size="5" dy="0.7">-</tspan><tspan dy="-0.7">20</tspan></text>
<text x="269.90" y="160.60" font-size="7.00" text-anchor="middle" fill="#111" font-family="Liberation Sans, sans-serif" textLength="8.60" lengthAdjust="spacingAndGlyphs"><tspan font-size="5" dy="0.7">-</tspan><tspan dy="-0.7">40</tspan></text>
<text x="304.00" y="160.60" font-size="7.00" text-anchor="middle" fill="#111" font-family="Liberation Sans, sans-serif" textLength="8.60" lengthAdjust="spacingAndGlyphs"><tspan font-size="5" dy="0.7">-</tspan><tspan dy="-0.7">60</tspan></text>
<text x="338.10" y="160.60" font-size="7.00" text-anchor="middle" fill="#111" font-family="Liberation Sans, sans-serif" textLength="8.60" lengthAdjust="spacingAndGlyphs"><tspan font-size="5" dy="0.7">-</tspan><tspan dy="-0.7">80</tspan></text>
<text x="203.30" y="10.60" font-size="6.20" text-anchor="start" fill="#111" textLength="6.70" lengthAdjust="spacingAndGlyphs" font-weight="normal" class="n">(b)</text>
<text transform="translate(187.20 109.80) rotate(-90)" font-size="6.30" fill="#111" textLength="61.40" lengthAdjust="spacingAndGlyphs">Drain current: <tspan font-style="italic">I</tspan><tspan font-style="italic" font-size="4.72" dy="1.8">DS</tspan><tspan dy="-1.8"> (µA)</tspan></text>
<text x="238.60" y="168.80" font-size="6.30" fill="#111" textLength="56.50" lengthAdjust="spacingAndGlyphs">Drain voltage: <tspan font-style="italic">V</tspan><tspan font-style="italic" font-size="4.72" dy="1.9">DS</tspan><tspan dy="-1.9"> (V)</tspan></text>
<text x="307.00" y="22.00" font-size="7.00" fill="#111" textLength="24.40" lengthAdjust="spacingAndGlyphs"><tspan font-style="italic">V</tspan><tspan font-style="italic" font-size="4.76" dy="1.9">GS</tspan><tspan dy="-2.1" font-size="6.16" font-style="italic">=</tspan><tspan dy="0.2" font-style="italic">-60V</tspan></text>
<text x="316.30" y="70.20" font-size="7.00" text-anchor="start" fill="#111" textLength="13.30" lengthAdjust="spacingAndGlyphs">-50V</text>
<text x="317.00" y="106.50" font-size="7.00" text-anchor="start" fill="#111" textLength="12.00" lengthAdjust="spacingAndGlyphs">-40V</text>
<text x="317.00" y="130.60" font-size="7.00" text-anchor="start" fill="#111" textLength="12.00" lengthAdjust="spacingAndGlyphs">-30V</text>
<text x="317.00" y="142.70" font-size="7.00" text-anchor="start" fill="#111" textLength="12.00" lengthAdjust="spacingAndGlyphs">-20V</text>
<text x="317.00" y="153.00" font-size="7.00" text-anchor="start" fill="#111" textLength="12.00" lengthAdjust="spacingAndGlyphs">-10V</text>
<line x1="56.50" y1="337.10" x2="56.50" y2="334.50" stroke="#222" stroke-width="0.90"/>
<line x1="56.50" y1="187.00" x2="56.50" y2="189.60" stroke="#222" stroke-width="0.90"/>
<line x1="90.60" y1="337.10" x2="90.60" y2="334.50" stroke="#222" stroke-width="0.90"/>
<line x1="90.60" y1="187.00" x2="90.60" y2="189.60" stroke="#222" stroke-width="0.90"/>
<line x1="124.70" y1="337.10" x2="124.70" y2="334.50" stroke="#222" stroke-width="0.90"/>
<line x1="124.70" y1="187.00" x2="124.70" y2="189.60" stroke="#222" stroke-width="0.90"/>
<line x1="39.45" y1="337.10" x2="39.45" y2="335.60" stroke="#222" stroke-width="0.80"/>
<line x1="39.45" y1="187.00" x2="39.45" y2="188.50" stroke="#222" stroke-width="0.80"/>
<line x1="73.55" y1="337.10" x2="73.55" y2="335.60" stroke="#222" stroke-width="0.80"/>
<line x1="73.55" y1="187.00" x2="73.55" y2="188.50" stroke="#222" stroke-width="0.80"/>
<line x1="107.65" y1="337.10" x2="107.65" y2="335.60" stroke="#222" stroke-width="0.80"/>
<line x1="107.65" y1="187.00" x2="107.65" y2="188.50" stroke="#222" stroke-width="0.80"/>
<line x1="141.75" y1="337.10" x2="141.75" y2="335.60" stroke="#222" stroke-width="0.80"/>
<line x1="141.75" y1="187.00" x2="141.75" y2="188.50" stroke="#222" stroke-width="0.80"/>
<line x1="22.50" y1="306.97" x2="25.10" y2="306.97" stroke="#222" stroke-width="0.90"/>
<line x1="158.80" y1="306.97" x2="156.20" y2="306.97" stroke="#222" stroke-width="0.90"/>
<line x1="22.50" y1="276.94" x2="25.10" y2="276.94" stroke="#222" stroke-width="0.90"/>
<line x1="158.80" y1="276.94" x2="156.20" y2="276.94" stroke="#222" stroke-width="0.90"/>
<line x1="22.50" y1="246.91" x2="25.10" y2="246.91" stroke="#222" stroke-width="0.90"/>
<line x1="158.80" y1="246.91" x2="156.20" y2="246.91" stroke="#222" stroke-width="0.90"/>
<line x1="22.50" y1="216.88" x2="25.10" y2="216.88" stroke="#222" stroke-width="0.90"/>
<line x1="158.80" y1="216.88" x2="156.20" y2="216.88" stroke="#222" stroke-width="0.90"/>
<line x1="22.50" y1="321.99" x2="24.00" y2="321.99" stroke="#222" stroke-width="0.80"/>
<line x1="158.80" y1="321.99" x2="157.30" y2="321.99" stroke="#222" stroke-width="0.80"/>
<line x1="22.50" y1="291.95" x2="24.00" y2="291.95" stroke="#222" stroke-width="0.80"/>
<line x1="158.80" y1="291.95" x2="157.30" y2="291.95" stroke="#222" stroke-width="0.80"/>
<line x1="22.50" y1="261.93" x2="24.00" y2="261.93" stroke="#222" stroke-width="0.80"/>
<line x1="158.80" y1="261.93" x2="157.30" y2="261.93" stroke="#222" stroke-width="0.80"/>
<line x1="22.50" y1="231.89" x2="24.00" y2="231.89" stroke="#222" stroke-width="0.80"/>
<line x1="158.80" y1="231.89" x2="157.30" y2="231.89" stroke="#222" stroke-width="0.80"/>
<line x1="22.50" y1="201.87" x2="24.00" y2="201.87" stroke="#222" stroke-width="0.80"/>
<line x1="158.80" y1="201.87" x2="157.30" y2="201.87" stroke="#222" stroke-width="0.80"/>
<rect x="22.50" y="187.00" width="136.30" height="150.10" fill="none" stroke="#222" stroke-width="1.30"/>
<clipPath id="cc"><rect x="22.50" y="187.00" width="136.30" height="150.10"/></clipPath>
<g clip-path="url(#cc)">
<path d="M22.70 336.90 L23.48 336.27 L24.25 335.63 L25.02 334.99 L25.79 334.35 L26.55 333.71 L27.31 333.06 L28.06 332.39 L28.80 331.72 L29.53 331.03 L30.24 330.33 L30.93 329.61 L31.61 328.88 L32.29 328.14 L32.95 327.39 L33.61 326.64 L34.26 325.88 L34.89 325.11 L35.49 324.32 L36.06 323.50 L36.60 322.66 L37.11 321.81 L37.59 320.93 L38.06 320.05 L38.51 319.16 L38.96 318.26 L39.40 317.37 L39.84 316.46 L40.26 315.56 L40.68 314.65 L41.09 313.74 L41.49 312.82 L41.89 311.90 L42.27 310.98 L42.66 310.05 L43.04 309.13 L43.41 308.20 L43.79 307.27 L44.17 306.34 L44.54 305.42 L44.92 304.49 L45.30 303.56 L45.68 302.63 L46.05 301.71 L46.42 300.78 L46.78 299.84 L47.14 298.91 L47.47 297.97 L47.80 297.02 L48.10 296.07 L48.39 295.11 L48.67 294.15 L48.93 293.18 L49.18 292.21 L49.43 291.24 L49.67 290.27 L49.91 289.30 L50.15 288.33 L50.39 287.36 L50.63 286.39 L50.87 285.41 L51.10 284.44 L51.33 283.47 L51.55 282.49 L51.76 281.51 L51.97 280.53 L52.16 279.55 L52.35 278.57 L52.53 277.58 L52.70 276.60 L52.87 275.61 L53.04 274.62 L53.21 273.63 L53.37 272.65 L53.54 271.66 L53.70 270.67 L53.87 269.69 L54.04 268.70 L54.21 267.71 L54.38 266.73 L54.56 265.74 L54.74 264.76 L54.93 263.77 L55.12 262.79 L55.31 261.81 L55.51 260.83 L55.70 259.85 L55.90 258.86 L56.09 257.88 L56.29 256.90 L56.47 255.92 L56.66 254.93 L56.84 253.95 L57.02 252.96 L57.19 251.98 L57.35 250.99 L57.51 250.00 L57.67 249.01 L57.82 248.02 L57.96 247.03 L58.11 246.04 L58.25 245.05 L58.39 244.06 L58.52 243.07 L58.66 242.07 L58.79 241.08 L58.92 240.09 L59.05 239.10 L59.18 238.10 L59.31 237.11 L59.44 236.12 L59.56 235.12 L59.68 234.13 L59.80 233.14 L59.92 232.14 L60.04 231.15 L60.16 230.16 L60.28 229.16 L60.40 228.17 L60.52 227.17 L60.64 226.18 L60.76 225.19 L60.88 224.19 L61.00 223.20 L61.13 222.21 L61.26 221.21 L61.38 220.22 L61.51 219.23 L61.64 218.23 L61.77 217.24 L61.89 216.25 L62.02 215.26 L62.15 214.26 L62.28 213.27 L62.41 212.28 L62.53 211.28 L62.66 210.29 L62.79 209.30 L62.91 208.30 L63.04 207.31 L63.16 206.32 L63.29 205.32 L63.41 204.33 L63.54 203.34 L63.66 202.34 L63.78 201.35 L63.91 200.36 L64.03 199.36 L64.15 198.37 L64.28 197.38 L64.40 196.38 L64.53 195.39 L64.65 194.40 L64.77 193.40 L64.90 192.41 L65.02 191.42 L65.14 190.42 L65.27 189.43 L65.40 188.44 L65.52 187.44 L65.65 186.45 L65.78 185.46 L65.91 184.47 L66.04 183.47 L66.17 182.48 L66.30 181.49 L66.43 180.50 L66.50 180.00" fill="none" stroke="#141414" stroke-width="1.90" stroke-linejoin="round" stroke-linecap="butt"/>
<path d="M22.70 336.90 L23.70 336.89 L24.70 336.88 L25.70 336.87 L26.70 336.86 L27.70 336.85 L28.71 336.84 L29.71 336.83 L30.71 336.81 L31.71 336.80 L32.71 336.78 L33.71 336.76 L34.71 336.73 L35.71 336.70 L36.71 336.66 L37.71 336.61 L38.71 336.56 L39.71 336.49 L40.71 336.41 L41.70 336.31 L42.69 336.19 L43.68 336.05 L44.67 335.88 L45.64 335.68 L46.61 335.45 L47.57 335.17 L48.51 334.86 L49.44 334.51 L50.36 334.12 L51.27 333.70 L52.16 333.25 L53.04 332.78 L53.90 332.28 L54.75 331.76 L55.59 331.21 L56.41 330.64 L57.22 330.05 L58.01 329.44 L58.78 328.81 L59.54 328.17 L60.29 327.50 L61.02 326.82 L61.73 326.12 L62.42 325.40 L63.10 324.66 L63.77 323.92 L64.42 323.16 L65.07 322.40 L65.71 321.63 L66.34 320.85 L66.95 320.06 L67.55 319.26 L68.13 318.45 L68.70 317.62 L69.24 316.79 L69.78 315.94 L70.30 315.09 L70.81 314.23 L71.31 313.36 L71.80 312.49 L72.29 311.61 L72.77 310.74 L73.24 309.85 L73.70 308.97 L74.16 308.07 L74.61 307.18 L75.05 306.28 L75.48 305.38 L75.90 304.47 L76.31 303.56 L76.71 302.64 L77.10 301.72 L77.49 300.80 L77.87 299.87 L78.23 298.94 L78.60 298.01 L78.95 297.07 L79.29 296.13 L79.62 295.18 L79.93 294.23 L80.23 293.28 L80.50 292.32 L80.76 291.35 L80.99 290.38 L81.21 289.40 L81.41 288.42 L81.61 287.44 L81.81 286.46 L82.01 285.48 L82.22 284.51 L82.45 283.53 L82.68 282.56 L82.93 281.59 L83.19 280.62 L83.45 279.66 L83.72 278.69 L83.98 277.73 L84.25 276.76 L84.51 275.79 L84.76 274.83 L85.02 273.86 L85.27 272.89 L85.52 271.92 L85.77 270.95 L86.02 269.98 L86.27 269.01 L86.52 268.04 L86.76 267.07 L87.01 266.10 L87.25 265.13 L87.50 264.16 L87.74 263.19 L87.97 262.21 L88.21 261.24 L88.44 260.27 L88.67 259.29 L88.90 258.32 L89.12 257.34 L89.33 256.36 L89.54 255.38 L89.74 254.40 L89.93 253.42 L90.11 252.44 L90.29 251.45 L90.47 250.47 L90.63 249.48 L90.80 248.49 L90.96 247.50 L91.11 246.52 L91.26 245.53 L91.41 244.54 L91.55 243.55 L91.69 242.55 L91.83 241.56 L91.96 240.57 L92.09 239.58 L92.22 238.58 L92.34 237.59 L92.47 236.60 L92.60 235.61 L92.72 234.61 L92.85 233.62 L92.98 232.63 L93.11 231.63 L93.23 230.64 L93.36 229.65 L93.49 228.66 L93.61 227.66 L93.74 226.67 L93.87 225.68 L94.00 224.68 L94.12 223.69 L94.25 222.70 L94.38 221.71 L94.51 220.71 L94.64 219.72 L94.77 218.73 L94.90 217.74 L95.04 216.74 L95.17 215.75 L95.30 214.76 L95.44 213.77 L95.57 212.77 L95.70 211.78 L95.84 210.79 L95.97 209.80 L96.10 208.81 L96.24 207.81 L96.37 206.82 L96.50 205.83 L96.62 204.84 L96.75 203.84 L96.88 202.85 L97.00 201.86 L97.12 200.86 L97.24 199.87 L97.36 198.88 L97.48 197.88 L97.60 196.89 L97.72 195.89 L97.84 194.90 L97.96 193.91 L98.07 192.91 L98.19 191.92 L98.31 190.92 L98.43 189.93 L98.55 188.93 L98.67 187.94 L98.79 186.95 L98.91 185.95 L99.04 184.96 L99.17 183.97 L99.30 182.98 L99.43 181.98 L99.57 180.99 L99.70 180.00 L99.70 180.00" fill="none" stroke="#e01f2a" stroke-width="1.90" stroke-linejoin="round" stroke-linecap="butt"/>
<path d="M22.70 336.90 L23.70 336.81 L24.69 336.72 L25.69 336.63 L26.69 336.55 L27.68 336.46 L28.68 336.37 L29.67 336.28 L30.67 336.19 L31.67 336.10 L32.66 336.00 L33.66 335.91 L34.65 335.81 L35.65 335.71 L36.64 335.60 L37.64 335.49 L38.63 335.38 L39.62 335.26 L40.62 335.14 L41.61 335.01 L42.60 334.87 L43.59 334.74 L44.58 334.60 L45.57 334.46 L46.56 334.31 L47.55 334.17 L48.54 334.03 L49.53 333.90 L50.52 333.76 L51.52 333.63 L52.51 333.51 L53.50 333.39 L54.50 333.28 L55.49 333.18 L56.49 333.09 L57.48 333.01 L58.48 332.94 L59.48 332.87 L60.48 332.81 L61.48 332.76 L62.47 332.70 L63.47 332.65 L64.47 332.60 L65.47 332.54 L66.47 332.48 L67.47 332.41 L68.46 332.34 L69.46 332.26 L70.46 332.18 L71.45 332.09 L72.45 332.00 L73.45 331.90 L74.44 331.79 L75.43 331.67 L76.42 331.53 L77.40 331.37 L78.38 331.17 L79.34 330.93 L80.29 330.65 L81.22 330.31 L82.13 329.92 L83.02 329.49 L83.89 329.00 L84.73 328.47 L85.55 327.91 L86.36 327.33 L87.15 326.72 L87.92 326.08 L88.68 325.44 L89.43 324.78 L90.17 324.10 L90.90 323.42 L91.63 322.74 L92.37 322.06 L93.11 321.39 L93.87 320.74 L94.64 320.11 L95.42 319.49 L96.21 318.89 L97.01 318.28 L97.80 317.67 L98.57 317.05 L99.32 316.39 L100.03 315.70 L100.70 314.98 L101.34 314.21 L101.93 313.42 L102.48 312.59 L103.01 311.75 L103.51 310.88 L103.98 310.01 L104.45 309.12 L104.90 308.23 L105.33 307.33 L105.76 306.43 L106.17 305.52 L106.58 304.60 L106.97 303.68 L107.36 302.76 L107.75 301.84 L108.12 300.91 L108.50 299.98 L108.87 299.05 L109.23 298.12 L109.59 297.19 L109.95 296.26 L110.30 295.32 L110.64 294.38 L110.97 293.44 L111.30 292.49 L111.61 291.54 L111.91 290.59 L112.20 289.63 L112.48 288.67 L112.75 287.71 L113.02 286.74 L113.29 285.78 L113.55 284.82 L113.82 283.85 L114.08 282.89 L114.35 281.92 L114.62 280.96 L114.88 279.99 L115.14 279.03 L115.41 278.06 L115.67 277.10 L115.93 276.13 L116.20 275.17 L116.46 274.20 L116.72 273.24 L116.99 272.27 L117.25 271.31 L117.52 270.35 L117.79 269.38 L118.06 268.42 L118.32 267.45 L118.59 266.49 L118.85 265.53 L119.12 264.56 L119.38 263.59 L119.63 262.63 L119.88 261.66 L120.12 260.69 L120.36 259.72 L120.59 258.74 L120.81 257.77 L121.02 256.79 L121.22 255.81 L121.41 254.83 L121.60 253.85 L121.77 252.86 L121.94 251.88 L122.10 250.89 L122.26 249.90 L122.41 248.91 L122.56 247.92 L122.71 246.93 L122.86 245.95 L123.01 244.96 L123.16 243.97 L123.31 242.98 L123.45 241.99 L123.60 241.00 L123.75 240.01 L123.90 239.02 L124.05 238.03 L124.19 237.04 L124.34 236.05 L124.48 235.06 L124.62 234.07 L124.77 233.08 L124.91 232.09 L125.05 231.10 L125.20 230.11 L125.34 229.12 L125.48 228.13 L125.63 227.14 L125.78 226.15 L125.92 225.17 L126.07 224.18 L126.22 223.19 L126.37 222.20 L126.52 221.21 L126.66 220.22 L126.81 219.23 L126.95 218.24 L127.09 217.25 L127.23 216.26 L127.36 215.27 L127.50 214.28 L127.63 213.28 L127.76 212.29 L127.88 211.30 L128.00 210.31 L128.13 209.31 L128.24 208.32 L128.36 207.33 L128.48 206.33 L128.60 205.34 L128.71 204.35 L128.83 203.35 L128.94 202.36 L129.05 201.37 L129.17 200.37 L129.28 199.38 L129.39 198.38 L129.50 197.39 L129.62 196.40 L129.73 195.40 L129.84 194.41 L129.95 193.41 L130.06 192.42 L130.18 191.43 L130.29 190.43 L130.40 189.44 L130.51 188.44 L130.63 187.45 L130.74 186.46 L130.86 185.46 L130.97 184.47 L131.09 183.48 L131.21 182.48 L131.32 181.49 L131.44 180.50 L131.50 180.00" fill="none" stroke="#3ae83a" stroke-width="1.90" stroke-linejoin="round" stroke-linecap="butt"/>
<path d="M22.70 336.90 L23.62 336.50 L24.53 336.10 L25.45 335.70 L26.37 335.30 L27.29 334.91 L28.21 334.52 L29.13 334.12 L30.05 333.73 L30.97 333.35 L31.89 332.96 L32.82 332.57 L33.74 332.20 L34.67 331.83 L35.61 331.47 L36.55 331.14 L37.49 330.82 L38.45 330.52 L39.41 330.24 L40.37 329.98 L41.34 329.74 L42.31 329.51 L43.29 329.30 L44.27 329.09 L45.25 328.90 L46.23 328.71 L47.22 328.54 L48.20 328.37 L49.19 328.21 L50.18 328.06 L51.17 327.92 L52.16 327.79 L53.15 327.67 L54.15 327.56 L55.14 327.45 L56.14 327.35 L57.13 327.26 L58.13 327.17 L59.12 327.08 L60.12 327.00 L61.12 326.92 L62.11 326.84 L63.11 326.76 L64.11 326.68 L65.11 326.61 L66.10 326.53 L67.10 326.45 L68.10 326.37 L69.09 326.29 L70.09 326.19 L71.09 326.10 L72.08 326.00 L73.08 325.90 L74.07 325.80 L75.07 325.70 L76.06 325.60 L77.06 325.50 L78.05 325.40 L79.05 325.30 L80.04 325.20 L81.04 325.11 L82.04 325.02 L83.03 324.93 L84.03 324.85 L85.03 324.77 L86.02 324.69 L87.02 324.62 L88.02 324.55 L89.02 324.49 L90.01 324.42 L91.01 324.36 L92.01 324.29 L93.01 324.23 L94.01 324.16 L95.00 324.09 L96.00 324.02 L97.00 323.94 L98.00 323.86 L98.99 323.78 L99.99 323.69 L100.98 323.59 L101.98 323.48 L102.97 323.36 L103.96 323.23 L104.95 323.09 L105.94 322.94 L106.93 322.77 L107.91 322.59 L108.89 322.39 L109.86 322.17 L110.83 321.93 L111.80 321.67 L112.75 321.39 L113.70 321.08 L114.64 320.74 L115.56 320.37 L116.46 319.95 L117.34 319.49 L118.19 318.98 L119.01 318.43 L119.81 317.84 L120.58 317.21 L121.32 316.55 L122.05 315.87 L122.77 315.17 L123.47 314.46 L124.16 313.74 L124.85 313.01 L125.54 312.28 L126.22 311.55 L126.90 310.82 L127.57 310.08 L128.24 309.34 L128.91 308.59 L129.57 307.84 L130.22 307.08 L130.87 306.32 L131.52 305.56 L132.15 304.79 L132.78 304.01 L133.39 303.22 L133.99 302.42 L134.57 301.61 L135.14 300.78 L135.68 299.95 L136.21 299.10 L136.72 298.24 L137.21 297.37 L137.69 296.49 L138.17 295.61 L138.64 294.73 L139.10 293.84 L139.57 292.96 L140.04 292.08 L140.51 291.19 L140.97 290.31 L141.43 289.42 L141.89 288.53 L142.33 287.63 L142.75 286.73 L143.16 285.82 L143.56 284.90 L143.95 283.98 L144.33 283.05 L144.70 282.13 L145.07 281.20 L145.44 280.27 L145.80 279.33 L146.16 278.40 L146.52 277.47 L146.87 276.53 L147.22 275.59 L147.57 274.66 L147.91 273.72 L148.25 272.78 L148.59 271.83 L148.92 270.89 L149.25 269.95 L149.58 269.00 L149.90 268.05 L150.22 267.11 L150.53 266.16 L150.84 265.21 L151.14 264.25 L151.43 263.29 L151.72 262.34 L151.99 261.37 L152.25 260.41 L152.50 259.44 L152.74 258.47 L152.97 257.50 L153.19 256.52 L153.40 255.54 L153.60 254.56 L153.80 253.58 L153.98 252.60 L154.16 251.62 L154.34 250.63 L154.51 249.65 L154.67 248.66 L154.83 247.67 L154.99 246.68 L155.15 245.70 L155.30 244.71 L155.45 243.72 L155.60 242.73 L155.74 241.74 L155.88 240.75 L156.03 239.76 L156.17 238.77 L156.30 237.78 L156.44 236.79 L156.57 235.80 L156.70 234.80 L156.82 233.81 L156.95 232.82 L157.07 231.83 L157.20 230.83 L157.32 229.84 L157.44 228.85 L157.56 227.86 L157.68 226.86 L157.80 225.87 L157.91 224.88 L158.03 223.88 L158.15 222.89 L158.27 221.90 L158.39 220.90 L158.51 219.91 L158.63 218.92 L158.75 217.92 L158.87 216.93 L159.00 215.94 L159.12 214.95 L159.25 213.95 L159.37 212.96 L159.50 211.97 L159.62 210.98 L159.75 209.98 L159.87 208.99 L160.00 208.00 L160.00 208.00" fill="none" stroke="#1f1ff5" stroke-width="1.90" stroke-linejoin="round" stroke-linecap="butt"/>
<path d="M22.70 336.90 L23.39 336.18 L24.08 335.46 L24.79 334.76 L25.52 334.07 L26.27 333.41 L27.03 332.76 L27.81 332.14 L28.60 331.53 L29.40 330.93 L30.21 330.35 L31.03 329.77 L31.85 329.20 L32.68 328.63 L33.51 328.07 L34.34 327.52 L35.18 326.97 L36.02 326.42 L36.86 325.89 L37.71 325.36 L38.56 324.83 L39.42 324.32 L40.28 323.81 L41.15 323.31 L42.02 322.82 L42.90 322.34 L43.78 321.87 L44.67 321.41 L45.56 320.95 L46.45 320.50 L47.35 320.06 L48.25 319.62 L49.15 319.18 L50.06 318.76 L50.97 318.34 L51.88 317.92 L52.79 317.52 L53.71 317.12 L54.63 316.73 L55.55 316.34 L56.48 315.97 L57.41 315.60 L58.35 315.24 L59.28 314.89 L60.23 314.55 L61.17 314.23 L62.12 313.91 L63.07 313.60 L64.03 313.30 L64.98 313.00 L65.94 312.72 L66.90 312.43 L67.86 312.15 L68.82 311.88 L69.79 311.60 L70.75 311.32 L71.71 311.04 L72.67 310.77 L73.63 310.49 L74.59 310.22 L75.56 309.94 L76.52 309.68 L77.49 309.41 L78.46 309.16 L79.42 308.91 L80.40 308.67 L81.37 308.44 L82.35 308.23 L83.33 308.02 L84.31 307.84 L85.29 307.66 L86.28 307.51 L87.27 307.36 L88.26 307.24 L89.26 307.12 L90.25 307.02 L91.25 306.93 L92.25 306.84 L93.24 306.75 L94.24 306.67 L95.24 306.59 L96.24 306.51 L97.23 306.43 L98.23 306.36 L99.23 306.29 L100.23 306.22 L101.23 306.16 L102.23 306.09 L103.23 306.03 L104.22 305.96 L105.22 305.90 L106.22 305.84 L107.22 305.78 L108.22 305.72 L109.22 305.65 L110.22 305.59 L111.22 305.53 L112.22 305.46 L113.21 305.40 L114.21 305.33 L115.21 305.26 L116.21 305.19 L117.21 305.11 L118.21 305.04 L119.20 304.96 L120.20 304.89 L121.20 304.81 L122.20 304.73 L123.20 304.65 L124.19 304.57 L125.19 304.49 L126.19 304.41 L127.19 304.32 L128.18 304.24 L129.18 304.16 L130.18 304.07 L131.17 303.98 L132.17 303.89 L133.17 303.80 L134.16 303.71 L135.16 303.61 L136.15 303.50 L137.15 303.38 L138.14 303.26 L139.13 303.13 L140.13 303.00 L141.12 302.86 L142.11 302.72 L143.09 302.57 L144.08 302.40 L145.06 302.20 L146.03 301.97 L146.99 301.71 L147.94 301.42 L148.88 301.08 L149.81 300.72 L150.72 300.33 L151.62 299.90 L152.51 299.44 L153.37 298.94 L154.21 298.41 L155.02 297.84 L155.81 297.23 L156.57 296.59 L157.31 295.92 L158.01 295.22 L158.69 294.50 L159.35 293.75 L160.00 293.00 L160.00 293.00" fill="none" stroke="#f514f5" stroke-width="1.90" stroke-linejoin="round" stroke-linecap="butt"/>
<path d="M22.70 336.90 L23.33 336.12 L23.96 335.34 L24.59 334.56 L25.22 333.78 L25.85 333.01 L26.48 332.23 L27.11 331.45 L27.75 330.67 L28.38 329.90 L29.01 329.12 L29.65 328.35 L30.28 327.57 L30.92 326.80 L31.56 326.03 L32.20 325.25 L32.83 324.48 L33.47 323.71 L34.11 322.94 L34.76 322.17 L35.40 321.40 L36.04 320.63 L36.68 319.86 L37.32 319.09 L37.96 318.32 L38.60 317.55 L39.25 316.79 L39.90 316.03 L40.56 315.27 L41.23 314.53 L41.90 313.78 L42.58 313.05 L43.27 312.32 L43.96 311.60 L44.66 310.88 L45.37 310.17 L46.08 309.46 L46.79 308.76 L47.51 308.06 L48.23 307.36 L48.95 306.67 L49.67 305.97 L50.40 305.28 L51.12 304.59 L51.85 303.90 L52.58 303.22 L53.31 302.53 L54.05 301.86 L54.79 301.19 L55.54 300.52 L56.30 299.87 L57.06 299.22 L57.84 298.58 L58.62 297.96 L59.41 297.34 L60.20 296.74 L61.01 296.14 L61.82 295.55 L62.64 294.97 L63.46 294.40 L64.28 293.83 L65.11 293.26 L65.94 292.70 L66.77 292.15 L67.61 291.60 L68.46 291.06 L69.30 290.53 L70.16 290.00 L71.01 289.48 L71.87 288.96 L72.73 288.45 L73.59 287.94 L74.46 287.43 L75.32 286.93 L76.19 286.43 L77.06 285.93 L77.93 285.44 L78.80 284.94 L79.67 284.45 L80.55 283.96 L81.42 283.47 L82.30 282.99 L83.19 282.52 L84.08 282.07 L84.97 281.63 L85.88 281.21 L86.80 280.81 L87.72 280.43 L88.65 280.07 L89.59 279.71 L90.53 279.36 L91.47 279.02 L92.41 278.68 L93.35 278.34 L94.30 278.01 L95.25 277.69 L96.20 277.38 L97.15 277.07 L98.11 276.78 L99.07 276.50 L100.04 276.23 L101.01 275.98 L101.98 275.73 L102.95 275.49 L103.93 275.27 L104.90 275.05 L105.88 274.84 L106.86 274.63 L107.84 274.43 L108.83 274.23 L109.81 274.04 L110.79 273.86 L111.78 273.68 L112.77 273.50 L113.75 273.33 L114.74 273.16 L115.73 273.00 L116.72 272.84 L117.71 272.69 L118.70 272.55 L119.69 272.42 L120.69 272.29 L121.68 272.18 L122.68 272.07 L123.67 271.96 L124.67 271.86 L125.67 271.77 L126.67 271.68 L127.66 271.60 L128.66 271.51 L129.66 271.44 L130.66 271.36 L131.66 271.29 L132.66 271.22 L133.66 271.15 L134.66 271.08 L135.66 271.01 L136.66 270.95 L137.66 270.89 L138.66 270.82 L139.66 270.76 L140.66 270.70 L141.66 270.64 L142.66 270.57 L143.66 270.51 L144.66 270.45 L145.66 270.39 L146.66 270.32 L147.65 270.26 L148.65 270.19 L149.65 270.13 L150.65 270.06 L151.65 269.99 L152.65 269.92 L153.65 269.86 L154.65 269.79 L155.64 269.72 L156.63 269.65 L157.60 269.58 L158.57 269.51 L159.52 269.44 L160.00 269.40" fill="none" stroke="#21218f" stroke-width="1.90" stroke-linejoin="round" stroke-linecap="butt"/>
</g>
<text x="20.10" y="339.50" font-size="7.00" text-anchor="end" fill="#111" font-family="Liberation Sans, sans-serif" textLength="3.45" lengthAdjust="spacingAndGlyphs">0</text>
<text x="20.10" y="309.47" font-size="7.00" text-anchor="end" fill="#111" font-family="Liberation Sans, sans-serif" textLength="8.90" lengthAdjust="spacingAndGlyphs">-20</text>
<text x="20.10" y="279.44" font-size="7.00" text-anchor="end" fill="#111" font-family="Liberation Sans, sans-serif" textLength="8.90" lengthAdjust="spacingAndGlyphs">-40</text>
<text x="20.10" y="249.41" font-size="7.00" text-anchor="end" fill="#111" font-family="Liberation Sans, sans-serif" textLength="8.90" lengthAdjust="spacingAndGlyphs">-60</text>
<text x="20.10" y="219.38" font-size="7.00" text-anchor="end" fill="#111" font-family="Liberation Sans, sans-serif" textLength="8.90" lengthAdjust="spacingAndGlyphs">-80</text>
<text x="20.10" y="189.35" font-size="7.00" text-anchor="end" fill="#111" font-family="Liberation Sans, sans-serif" textLength="12.35" lengthAdjust="spacingAndGlyphs">-100</text>
<text x="22.40" y="344.60" font-size="7.00" text-anchor="middle" fill="#111" font-family="Liberation Sans, sans-serif" textLength="3.30" lengthAdjust="spacingAndGlyphs">0</text>
<text x="56.50" y="344.60" font-size="7.00" text-anchor="middle" fill="#111" font-family="Liberation Sans, sans-serif" textLength="8.60" lengthAdjust="spacingAndGlyphs"><tspan font-size="5" dy="0.7">-</tspan><tspan dy="-0.7">20</tspan></text>
<text x="90.60" y="344.60" font-size="7.00" text-anchor="middle" fill="#111" font-family="Liberation Sans, sans-serif" textLength="8.60" lengthAdjust="spacingAndGlyphs"><tspan font-size="5" dy="0.7">-</tspan><tspan dy="-0.7">40</tspan></text>
<text x="124.70" y="344.60" font-size="7.00" text-anchor="middle" fill="#111" font-family="Liberation Sans, sans-serif" textLength="8.60" lengthAdjust="spacingAndGlyphs"><tspan font-size="5" dy="0.7">-</tspan><tspan dy="-0.7">60</tspan></text>
<text x="158.80" y="344.60" font-size="7.00" text-anchor="middle" fill="#111" font-family="Liberation Sans, sans-serif" textLength="8.60" lengthAdjust="spacingAndGlyphs"><tspan font-size="5" dy="0.7">-</tspan><tspan dy="-0.7">80</tspan></text>
<text x="23.70" y="192.60" font-size="5.00" text-anchor="start" fill="#111" textLength="6.30" lengthAdjust="spacingAndGlyphs" font-weight="normal" class="n">(c)</text>
<text transform="translate(5.60 290.30) rotate(-90)" font-size="6.30" fill="#111" textLength="61.40" lengthAdjust="spacingAndGlyphs">Drain current: <tspan font-style="italic">I</tspan><tspan font-style="italic" font-size="4.72" dy="1.8">DS</tspan><tspan dy="-1.8"> (µA)</tspan></text>
<text x="57.20" y="350.90" font-size="6.30" fill="#111" textLength="54.20" lengthAdjust="spacingAndGlyphs">Drain voltage: <tspan font-style="italic">V</tspan><tspan font-style="italic" font-size="4.72" dy="1.9">DS</tspan><tspan dy="-1.9"> (V)</tspan></text>
<text x="39.70" y="198.00" font-size="7.00" fill="#111" textLength="22.70" lengthAdjust="spacingAndGlyphs"><tspan font-style="italic">V</tspan><tspan font-style="italic" font-size="4.76" dy="1.9">GS</tspan><tspan dy="-2.1" font-size="6.16">=</tspan><tspan dy="0.2">0V</tspan></text>
<text x="79.60" y="206.20" font-size="7.00" text-anchor="start" fill="#111" textLength="13.20" lengthAdjust="spacingAndGlyphs">-20V</text>
<text x="111.80" y="213.50" font-size="7.00" text-anchor="start" fill="#111" textLength="13.60" lengthAdjust="spacingAndGlyphs">-40V</text>
<text x="140.70" y="225.20" font-size="7.00" text-anchor="start" fill="#111" textLength="14.00" lengthAdjust="spacingAndGlyphs">-60V</text>
<text x="125.80" y="268.50" font-size="7.00" text-anchor="start" fill="#111" textLength="17.50" lengthAdjust="spacingAndGlyphs">-100V</text>
<text x="116.80" y="302.20" font-size="7.00" text-anchor="start" fill="#111" textLength="14.00" lengthAdjust="spacingAndGlyphs">-80V</text>
<line x1="218.70" y1="336.40" x2="218.70" y2="333.80" stroke="#222" stroke-width="0.90"/>
<line x1="218.70" y1="186.00" x2="218.70" y2="188.60" stroke="#222" stroke-width="0.90"/>
<line x1="235.70" y1="336.40" x2="235.70" y2="333.80" stroke="#222" stroke-width="0.90"/>
<line x1="235.70" y1="186.00" x2="235.70" y2="188.60" stroke="#222" stroke-width="0.90"/>
<line x1="252.70" y1="336.40" x2="252.70" y2="333.80" stroke="#222" stroke-width="0.90"/>
<line x1="252.70" y1="186.00" x2="252.70" y2="188.60" stroke="#222" stroke-width="0.90"/>
<line x1="269.70" y1="336.40" x2="269.70" y2="333.80" stroke="#222" stroke-width="0.90"/>
<line x1="269.70" y1="186.00" x2="269.70" y2="188.60" stroke="#222" stroke-width="0.90"/>
<line x1="286.70" y1="336.40" x2="286.70" y2="333.80" stroke="#222" stroke-width="0.90"/>
<line x1="286.70" y1="186.00" x2="286.70" y2="188.60" stroke="#222" stroke-width="0.90"/>
<line x1="303.70" y1="336.40" x2="303.70" y2="333.80" stroke="#222" stroke-width="0.90"/>
<line x1="303.70" y1="186.00" x2="303.70" y2="188.60" stroke="#222" stroke-width="0.90"/>
<line x1="320.70" y1="336.40" x2="320.70" y2="333.80" stroke="#222" stroke-width="0.90"/>
<line x1="320.70" y1="186.00" x2="320.70" y2="188.60" stroke="#222" stroke-width="0.90"/>
<line x1="210.20" y1="336.40" x2="210.20" y2="334.90" stroke="#222" stroke-width="0.80"/>
<line x1="210.20" y1="186.00" x2="210.20" y2="187.50" stroke="#222" stroke-width="0.80"/>
<line x1="227.20" y1="336.40" x2="227.20" y2="334.90" stroke="#222" stroke-width="0.80"/>
<line x1="227.20" y1="186.00" x2="227.20" y2="187.50" stroke="#222" stroke-width="0.80"/>
<line x1="244.20" y1="336.40" x2="244.20" y2="334.90" stroke="#222" stroke-width="0.80"/>
<line x1="244.20" y1="186.00" x2="244.20" y2="187.50" stroke="#222" stroke-width="0.80"/>
<line x1="261.20" y1="336.40" x2="261.20" y2="334.90" stroke="#222" stroke-width="0.80"/>
<line x1="261.20" y1="186.00" x2="261.20" y2="187.50" stroke="#222" stroke-width="0.80"/>
<line x1="278.20" y1="336.40" x2="278.20" y2="334.90" stroke="#222" stroke-width="0.80"/>
<line x1="278.20" y1="186.00" x2="278.20" y2="187.50" stroke="#222" stroke-width="0.80"/>
<line x1="295.20" y1="336.40" x2="295.20" y2="334.90" stroke="#222" stroke-width="0.80"/>
<line x1="295.20" y1="186.00" x2="295.20" y2="187.50" stroke="#222" stroke-width="0.80"/>
<line x1="312.20" y1="336.40" x2="312.20" y2="334.90" stroke="#222" stroke-width="0.80"/>
<line x1="312.20" y1="186.00" x2="312.20" y2="187.50" stroke="#222" stroke-width="0.80"/>
<line x1="329.20" y1="336.40" x2="329.20" y2="334.90" stroke="#222" stroke-width="0.80"/>
<line x1="329.20" y1="186.00" x2="329.20" y2="187.50" stroke="#222" stroke-width="0.80"/>
<line x1="201.60" y1="273.10" x2="204.20" y2="273.10" stroke="#222" stroke-width="0.90"/>
<line x1="337.40" y1="273.10" x2="334.80" y2="273.10" stroke="#222" stroke-width="0.90"/>
<line x1="201.60" y1="210.00" x2="204.20" y2="210.00" stroke="#222" stroke-width="0.90"/>
<line x1="337.40" y1="210.00" x2="334.80" y2="210.00" stroke="#222" stroke-width="0.90"/>
<line x1="201.60" y1="304.65" x2="203.10" y2="304.65" stroke="#222" stroke-width="0.80"/>
<line x1="337.40" y1="304.65" x2="335.90" y2="304.65" stroke="#222" stroke-width="0.80"/>
<line x1="201.60" y1="241.55" x2="203.10" y2="241.55" stroke="#222" stroke-width="0.80"/>
<line x1="337.40" y1="241.55" x2="335.90" y2="241.55" stroke="#222" stroke-width="0.80"/>
<rect x="201.60" y="186.00" width="135.80" height="150.40" fill="none" stroke="#222" stroke-width="1.30"/>
<path d="M201.70 335.60 L202.64 335.27 L203.59 335.00 L204.56 334.80 L205.55 334.67 L206.55 334.59 L207.55 334.53 L208.55 334.49 L209.55 334.46 L210.55 334.44 L211.56 334.42 L212.56 334.41 L213.56 334.40 L214.56 334.39 L215.57 334.38 L216.57 334.37 L217.57 334.37 L218.58 334.36 L219.58 334.36 L220.58 334.36 L221.59 334.35 L222.59 334.35 L223.59 334.35 L224.59 334.35 L225.60 334.34 L226.60 334.34 L227.60 334.34 L228.61 334.34 L229.61 334.34 L230.61 334.34 L231.61 334.34 L232.62 334.33 L233.62 334.33 L234.62 334.33 L235.63 334.32 L236.63 334.32 L237.63 334.31 L238.64 334.31 L239.64 334.30 L240.64 334.30 L241.64 334.29 L242.65 334.28 L243.65 334.28 L244.65 334.27 L245.66 334.27 L246.66 334.26 L247.66 334.26 L248.66 334.25 L249.67 334.25 L250.67 334.25 L251.67 334.24 L252.68 334.24 L253.68 334.23 L254.68 334.23 L255.68 334.22 L256.69 334.22 L257.69 334.21 L258.69 334.20 L259.70 334.19 L260.70 334.18 L261.70 334.17 L262.71 334.16 L263.71 334.14 L264.71 334.13 L265.71 334.11 L266.72 334.09 L267.72 334.06 L268.72 334.04 L269.72 334.00 L270.73 333.97 L271.73 333.93 L272.73 333.89 L273.73 333.85 L274.73 333.80 L275.74 333.74 L276.74 333.69 L277.74 333.63 L278.74 333.56 L279.74 333.49 L280.74 333.42 L281.74 333.35 L282.74 333.27 L283.74 333.19 L284.74 333.10 L285.74 333.02 L286.74 332.93 L287.74 332.84 L288.74 332.76 L289.73 332.67 L290.73 332.58 L291.73 332.49 L292.73 332.39 L293.73 332.30 L294.73 332.20 L295.72 332.10 L296.72 332.00 L297.72 331.89 L298.72 331.79 L299.71 331.68 L300.71 331.57 L301.71 331.46 L302.71 331.35 L303.70 331.23 L304.70 331.12 L305.69 331.01 L306.69 330.89 L307.69 330.78 L308.68 330.66 L309.68 330.54 L310.68 330.43 L311.67 330.31 L312.67 330.19 L313.66 330.08 L314.66 329.96 L315.66 329.84 L316.65 329.72 L317.65 329.60 L318.64 329.48 L319.64 329.35 L320.63 329.23 L321.63 329.10 L322.62 328.97 L323.62 328.83 L324.61 328.70 L325.60 328.55 L326.59 328.40 L327.58 328.24 L328.57 328.07 L329.56 327.90 L330.54 327.71 L331.53 327.51 L332.51 327.30 L333.49 327.09 L334.47 326.87 L335.44 326.64 L336.42 326.42 L337.40 326.20 L337.40 326.20" fill="none" stroke="#141414" stroke-width="1.40" stroke-linejoin="round" stroke-linecap="butt"/>
<path d="M201.70 335.80 L201.81 335.73 L202.02 335.61 L202.28 335.44 L202.59 335.25 L202.95 335.04 L203.34 334.80 L203.77 334.54 L204.23 334.27 L204.72 333.99 L205.23 333.69 L205.78 333.39 L206.34 333.09 L206.94 332.78 L207.55 332.47 L208.19 332.17 L208.85 331.87 L209.53 331.59 L210.23 331.31 L210.95 331.05 L211.69 330.79 L212.45 330.56 L213.23 330.34 L214.02 330.13 L214.84 329.95 L215.67 329.77 L216.51 329.62 L217.38 329.48 L218.25 329.35 L219.15 329.24 L220.06 329.14 L220.99 329.05 L221.93 328.97 L222.88 328.90 L223.85 328.84 L224.84 328.79 L225.83 328.75 L226.85 328.71 L227.87 328.68 L228.91 328.65 L229.97 328.62 L231.03 328.60 L232.11 328.59 L233.21 328.57 L234.31 328.56 L235.43 328.55 L236.56 328.54 L237.70 328.53 L238.86 328.53 L240.02 328.52 L241.20 328.52 L242.39 328.51 L243.60 328.51 L244.81 328.51 L246.04 328.51 L247.27 328.51 L248.52 328.50 L249.78 328.50 L251.05 328.50 L252.34 328.50 L253.63 328.50 L254.93 328.50 L256.25 328.50 L257.57 328.50 L258.91 328.50 L260.25 328.50 L261.61 328.50 L262.98 328.50 L264.35 328.49 L265.74 328.49 L267.14 328.49 L268.55 328.49 L269.96 328.49 L271.39 328.49 L272.83 328.49 L274.27 328.49 L275.73 328.48 L277.19 328.48 L278.67 328.48 L280.16 328.48 L281.65 328.47 L283.15 328.47 L284.67 328.46 L286.19 328.46 L287.72 328.45 L289.26 328.45 L290.81 328.44 L292.37 328.43 L293.94 328.42 L295.51 328.40 L297.10 328.39 L298.69 328.37 L300.30 328.35 L301.91 328.33 L303.53 328.30 L305.16 328.27 L306.80 328.24 L308.44 328.20 L310.10 328.15 L311.76 328.09 L313.43 328.03 L315.11 327.95 L316.80 327.86 L318.50 327.76 L320.20 327.64 L321.92 327.50 L323.64 327.33 L325.37 327.13 L327.11 326.91 L328.85 326.64 L330.61 326.32 L332.37 325.95 L334.14 325.52 L335.91 325.00 L337.70 324.40" fill="none" stroke="#e01f2a" stroke-width="1.90" stroke-linejoin="round"/>
<path d="M201.70 335.80 L201.81 335.62 L202.02 335.29 L202.28 334.87 L202.59 334.37 L202.95 333.81 L203.34 333.19 L203.77 332.52 L204.23 331.81 L204.72 331.07 L205.23 330.30 L205.78 329.50 L206.34 328.69 L206.94 327.87 L207.55 327.03 L208.19 326.20 L208.85 325.37 L209.53 324.55 L210.23 323.74 L210.95 322.95 L211.69 322.18 L212.45 321.44 L213.23 320.72 L214.02 320.03 L214.84 319.37 L215.67 318.74 L216.51 318.14 L217.38 317.58 L218.25 317.05 L219.15 316.56 L220.06 316.10 L220.99 315.67 L221.93 315.27 L222.88 314.90 L223.85 314.56 L224.84 314.24 L225.83 313.96 L226.85 313.69 L227.87 313.45 L228.91 313.23 L229.97 313.03 L231.03 312.85 L232.11 312.69 L233.21 312.54 L234.31 312.41 L235.43 312.29 L236.56 312.18 L237.70 312.08 L238.86 312.00 L240.02 311.92 L241.20 311.85 L242.39 311.79 L243.60 311.73 L244.81 311.68 L246.04 311.64 L247.27 311.60 L248.52 311.56 L249.78 311.53 L251.05 311.50 L252.34 311.48 L253.63 311.46 L254.93 311.44 L256.25 311.42 L257.57 311.41 L258.91 311.39 L260.25 311.38 L261.61 311.37 L262.98 311.36 L264.35 311.36 L265.74 311.35 L267.14 311.34 L268.55 311.34 L269.96 311.33 L271.39 311.33 L272.83 311.32 L274.27 311.32 L275.73 311.32 L277.19 311.32 L278.67 311.31 L280.16 311.31 L281.65 311.31 L283.15 311.31 L284.67 311.31 L286.19 311.31 L287.72 311.31 L289.26 311.31 L290.81 311.30 L292.37 311.30 L293.94 311.30 L295.51 311.30 L297.10 311.30 L298.69 311.30 L300.30 311.30 L301.91 311.30 L303.53 311.30 L305.16 311.30 L306.80 311.30 L308.44 311.30 L310.10 311.30 L311.76 311.30 L313.43 311.30 L315.11 311.30 L316.80 311.30 L318.50 311.30 L320.20 311.30 L321.92 311.30 L323.64 311.30 L325.37 311.30 L327.11 311.30 L328.85 311.30 L330.61 311.30 L332.37 311.30 L334.14 311.30 L335.91 311.30 L337.70 311.30" fill="none" stroke="#3ae83a" stroke-width="1.90" stroke-linejoin="round"/>
<path d="M201.70 335.80 L201.81 335.44 L202.02 334.79 L202.28 333.95 L202.59 332.95 L202.95 331.82 L203.34 330.58 L203.77 329.24 L204.23 327.82 L204.72 326.31 L205.23 324.74 L205.78 323.12 L206.34 321.44 L206.94 319.73 L207.55 317.98 L208.19 316.22 L208.85 314.44 L209.53 312.65 L210.23 310.87 L210.95 309.10 L211.69 307.35 L212.45 305.61 L213.23 303.91 L214.02 302.25 L214.84 300.62 L215.67 299.04 L216.51 297.50 L217.38 296.02 L218.25 294.59 L219.15 293.21 L220.06 291.89 L220.99 290.64 L221.93 289.44 L222.88 288.29 L223.85 287.21 L224.84 286.19 L225.83 285.22 L226.85 284.31 L227.87 283.45 L228.91 282.65 L229.97 281.89 L231.03 281.19 L232.11 280.53 L233.21 279.91 L234.31 279.34 L235.43 278.81 L236.56 278.32 L237.70 277.86 L238.86 277.44 L240.02 277.05 L241.20 276.69 L242.39 276.35 L243.60 276.05 L244.81 275.76 L246.04 275.50 L247.27 275.27 L248.52 275.05 L249.78 274.85 L251.05 274.66 L252.34 274.49 L253.63 274.34 L254.93 274.20 L256.25 274.07 L257.57 273.95 L258.91 273.85 L260.25 273.75 L261.61 273.66 L262.98 273.58 L264.35 273.51 L265.74 273.44 L267.14 273.38 L268.55 273.32 L269.96 273.27 L271.39 273.23 L272.83 273.18 L274.27 273.15 L275.73 273.11 L277.19 273.08 L278.67 273.05 L280.16 273.03 L281.65 273.01 L283.15 272.99 L284.67 272.97 L286.19 272.95 L287.72 272.94 L289.26 272.92 L290.81 272.91 L292.37 272.90 L293.94 272.89 L295.51 272.88 L297.10 272.87 L298.69 272.86 L300.30 272.86 L301.91 272.85 L303.53 272.85 L305.16 272.84 L306.80 272.84 L308.44 272.83 L310.10 272.83 L311.76 272.83 L313.43 272.82 L315.11 272.82 L316.80 272.82 L318.50 272.82 L320.20 272.82 L321.92 272.81 L323.64 272.81 L325.37 272.81 L327.11 272.81 L328.85 272.81 L330.61 272.81 L332.37 272.81 L334.14 272.81 L335.91 272.81 L337.70 272.80" fill="none" stroke="#1f1ff5" stroke-width="1.90" stroke-linejoin="round"/>
<path d="M201.70 335.80 L201.81 335.28 L202.02 334.33 L202.28 333.11 L202.59 331.66 L202.95 330.01 L203.34 328.19 L203.77 326.21 L204.23 324.10 L204.72 321.84 L205.23 319.47 L205.78 316.98 L206.34 314.39 L206.94 311.70 L207.55 308.92 L208.19 306.06 L208.85 303.13 L209.53 300.13 L210.23 297.07 L210.95 293.96 L211.69 290.81 L212.45 287.62 L213.23 284.41 L214.02 281.19 L214.84 277.95 L215.67 274.72 L216.51 271.49 L217.38 268.28 L218.25 265.09 L219.15 261.93 L220.06 258.82 L220.99 255.75 L221.93 252.73 L222.88 249.78 L223.85 246.89 L224.84 244.07 L225.83 241.33 L226.85 238.67 L227.87 236.09 L228.91 233.60 L229.97 231.21 L231.03 228.90 L232.11 226.69 L233.21 224.57 L234.31 222.55 L235.43 220.63 L236.56 218.80 L237.70 217.06 L238.86 215.41 L240.02 213.86 L241.20 212.39 L242.39 211.01 L243.60 209.71 L244.81 208.49 L246.04 207.35 L247.27 206.28 L248.52 205.29 L249.78 204.36 L251.05 203.50 L252.34 202.69 L253.63 201.95 L254.93 201.26 L256.25 200.62 L257.57 200.04 L258.91 199.49 L260.25 198.99 L261.61 198.53 L262.98 198.11 L264.35 197.72 L265.74 197.37 L267.14 197.04 L268.55 196.75 L269.96 196.48 L271.39 196.23 L272.83 196.00 L274.27 195.80 L275.73 195.61 L277.19 195.44 L278.67 195.29 L280.16 195.15 L281.65 195.02 L283.15 194.91 L284.67 194.80 L286.19 194.71 L287.72 194.62 L289.26 194.55 L290.81 194.48 L292.37 194.42 L293.94 194.36 L295.51 194.31 L297.10 194.27 L298.69 194.23 L300.30 194.19 L301.91 194.16 L303.53 194.13 L305.16 194.10 L306.80 194.08 L308.44 194.06 L310.10 194.04 L311.76 194.03 L313.43 194.01 L315.11 194.00 L316.80 193.99 L318.50 193.98 L320.20 193.97 L321.92 193.96 L323.64 193.95 L325.37 193.95 L327.11 193.94 L328.85 193.94 L330.61 193.93 L332.37 193.93 L334.14 193.92 L335.91 193.92 L337.70 193.92" fill="none" stroke="#f514f5" stroke-width="1.90" stroke-linejoin="round"/>
<text x="197.60" y="338.60" font-size="7.00" text-anchor="end" fill="#111" font-family="Liberation Sans, sans-serif" textLength="3.30" lengthAdjust="spacingAndGlyphs">0</text>
<text x="197.60" y="275.50" font-size="7.00" text-anchor="end" fill="#111" font-family="Liberation Sans, sans-serif" textLength="9.90" lengthAdjust="spacingAndGlyphs">200</text>
<text x="197.60" y="212.40" font-size="7.00" text-anchor="end" fill="#111" font-family="Liberation Sans, sans-serif" textLength="9.90" lengthAdjust="spacingAndGlyphs">400</text>
<text x="201.70" y="342.60" font-size="7.00" text-anchor="middle" fill="#111" font-family="Liberation Sans, sans-serif" textLength="3.30" lengthAdjust="spacingAndGlyphs">0</text>
<text x="218.70" y="342.60" font-size="7.00" text-anchor="middle" fill="#111" font-family="Liberation Sans, sans-serif" textLength="6.60" lengthAdjust="spacingAndGlyphs">10</text>
<text x="235.70" y="342.60" font-size="7.00" text-anchor="middle" fill="#111" font-family="Liberation Sans, sans-serif" textLength="6.60" lengthAdjust="spacingAndGlyphs">20</text>
<text x="252.70" y="342.60" font-size="7.00" text-anchor="middle" fill="#111" font-family="Liberation Sans, sans-serif" textLength="6.60" lengthAdjust="spacingAndGlyphs">30</text>
<text x="269.70" y="342.60" font-size="7.00" text-anchor="middle" fill="#111" font-family="Liberation Sans, sans-serif" textLength="6.60" lengthAdjust="spacingAndGlyphs">40</text>
<text x="286.70" y="342.60" font-size="7.00" text-anchor="middle" fill="#111" font-family="Liberation Sans, sans-serif" textLength="6.60" lengthAdjust="spacingAndGlyphs">50</text>
<text x="303.70" y="342.60" font-size="7.00" text-anchor="middle" fill="#111" font-family="Liberation Sans, sans-serif" textLength="6.60" lengthAdjust="spacingAndGlyphs">60</text>
<text x="320.70" y="342.60" font-size="7.00" text-anchor="middle" fill="#111" font-family="Liberation Sans, sans-serif" textLength="6.60" lengthAdjust="spacingAndGlyphs">70</text>
<text x="337.70" y="342.60" font-size="7.00" text-anchor="middle" fill="#111" font-family="Liberation Sans, sans-serif" textLength="6.60" lengthAdjust="spacingAndGlyphs">80</text>
<text x="204.90" y="194.20" font-size="6.00" text-anchor="start" fill="#111" textLength="6.50" lengthAdjust="spacingAndGlyphs" font-weight="normal" class="n">(d)</text>
<text transform="translate(183.30 290.60) rotate(-90)" font-size="6.30" fill="#111" textLength="61.60" lengthAdjust="spacingAndGlyphs">Drain current: <tspan font-style="italic">I</tspan><tspan font-style="italic" font-size="4.72" dy="1.8">DS</tspan><tspan dy="-1.8"> (µA)</tspan></text>
<text x="239.20" y="351.00" font-size="6.30" fill="#111" textLength="56.70" lengthAdjust="spacingAndGlyphs">Drain voltage: <tspan font-style="italic">V</tspan><tspan font-style="italic" font-size="4.72" dy="1.9">DS</tspan><tspan dy="-1.9"> (V)</tspan></text>
<text x="302.50" y="202.50" font-size="7.00" fill="#111" textLength="26.40" lengthAdjust="spacingAndGlyphs"><tspan font-style="italic">V</tspan><tspan font-style="italic" font-size="4.76" dy="1.9">GS</tspan><tspan dy="-2.1" font-size="6.16" font-style="italic">=</tspan><tspan dy="0.2" font-style="italic">40V</tspan></text>
<text x="315.80" y="282.00" font-size="7.00" text-anchor="start" fill="#111" textLength="11.80" lengthAdjust="spacingAndGlyphs">30V</text>
<text x="315.80" y="308.60" font-size="7.00" text-anchor="start" fill="#111" textLength="11.80" lengthAdjust="spacingAndGlyphs">20V</text>
<text x="315.80" y="323.70" font-size="7.00" text-anchor="start" fill="#111" textLength="11.80" lengthAdjust="spacingAndGlyphs">10V</text>
<text x="249.90" y="324.90" font-size="7.00" text-anchor="start" fill="#111" textLength="7.60" lengthAdjust="spacingAndGlyphs">0V</text>
<polyline points="257.6,322.8 266.3,322.8 266.3,329.6" fill="none" stroke="#111" stroke-width="0.9"/>
<path d="M266.30 332.30 L264.90 329.30 L267.70 329.30 Z" fill="#111"/>
<rect x="244.40" y="227.30" width="89.80" height="9.10" fill="#d3c5e4" stroke="#151515" stroke-width="0.95"/>
<rect x="244.40" y="236.40" width="89.80" height="9.10" fill="#e0f3fb" stroke="#151515" stroke-width="0.95"/>
<rect x="244.40" y="245.50" width="89.80" height="9.50" fill="#1aabec" stroke="#151515" stroke-width="0.95"/>
<rect x="244.40" y="255.00" width="89.80" height="11.40" fill="#0b6ec6" stroke="#151515" stroke-width="0.95"/>
<rect x="244.40" y="217.00" width="14.20" height="10.40" fill="#f6b70d" stroke="#151515" stroke-width="0.95"/>
<text x="246.20" y="225.10" font-size="7.4" font-weight="normal" fill="#221500" textLength="10.60" lengthAdjust="spacingAndGlyphs">Au</text>
<rect x="320.00" y="217.00" width="14.20" height="10.40" fill="#f6b70d" stroke="#151515" stroke-width="0.95"/>
<text x="321.60" y="225.10" font-size="7.4" font-weight="normal" fill="#221500" textLength="10.60" lengthAdjust="spacingAndGlyphs">Au</text>
<text x="270.60" y="234.90" font-size="7.3" font-weight="normal" fill="#111" textLength="37.30" lengthAdjust="spacingAndGlyphs">Pentacene</text>
<text x="280.40" y="244.10" font-size="7.3" font-weight="normal" fill="#111" textLength="11.40" lengthAdjust="spacingAndGlyphs">IZO</text>
<text x="279.40" y="252.90" font-size="7.3" font-weight="normal" fill="#111" textLength="15.30" lengthAdjust="spacingAndGlyphs">SiO<tspan font-size="4.8" dy="1.5">2</tspan></text>
<text x="276.90" y="263.40" font-size="7.3" font-weight="normal" fill="#fff" class="w" textLength="18.50" lengthAdjust="spacingAndGlyphs">n<tspan font-size="4.8" dy="-2.4">++</tspan><tspan dy="2.4">-Si</tspan></text>
</svg>
</body></html>
